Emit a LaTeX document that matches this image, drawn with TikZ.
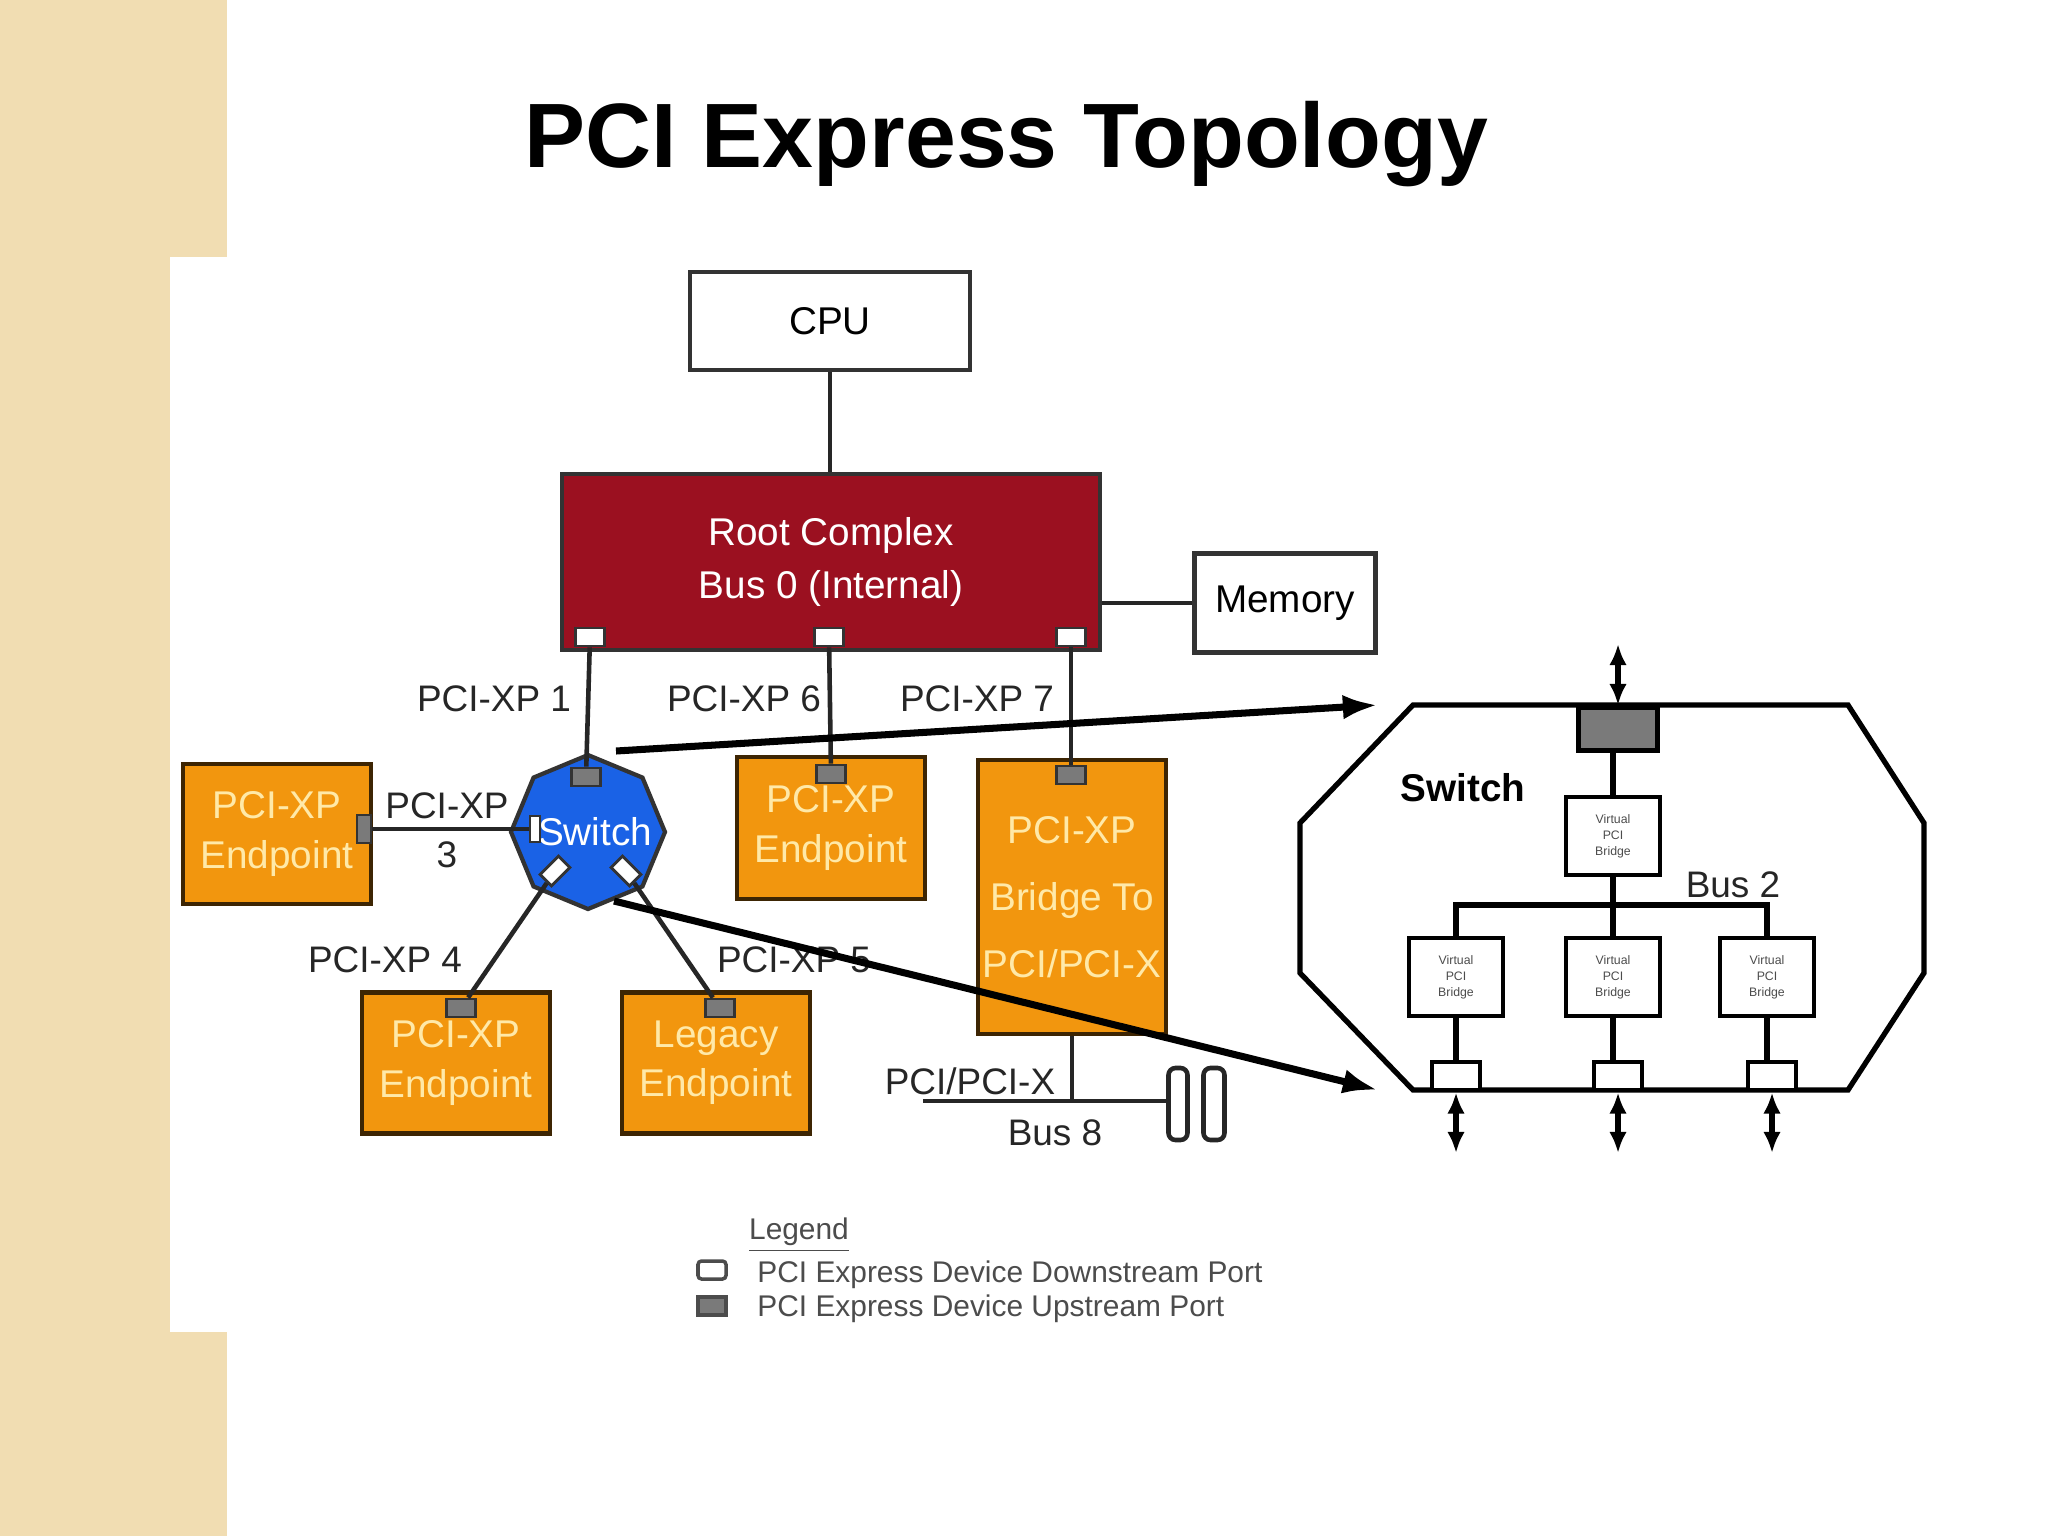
\documentclass[tikz,border=0pt]{standalone}
\usepackage{fontspec}
\setmainfont{Liberation Sans}
\usetikzlibrary{shapes.geometric,arrows.meta}
\newdimen\pxu \pxu=0.01cm
\definecolor{beige}{HTML}{F1DDB2}
\definecolor{rootred}{HTML}{9B1020}
\definecolor{orng}{HTML}{F2960E}
\definecolor{cream}{HTML}{FFE9A8}
\definecolor{swblue}{HTML}{1A62E6}
\definecolor{portgray}{HTML}{7A7A7A}
\begin{document}
\begin{tikzpicture}[x=0.01cm,y=-0.01cm,
  lbl/.style={font=\fontsize{10.5}{12}\selectfont,text=black!85},
  box/.style={draw=black!80,line width=1.4pt,fill=white,font=\fontsize{11}{13}\selectfont},
  ep/.style={draw=black!75!orng,line width=1.4pt,fill=orng,text=cream,align=center,font=\fontsize{11}{14}\selectfont,inner sep=0pt},
  dport/.style={draw=black!80,fill=white,line width=0.8pt,minimum width=29\pxu,minimum height=18\pxu,inner sep=0pt},
  uport/.style={draw=black!80,fill=portgray,line width=0.8pt,minimum width=29\pxu,minimum height=18\pxu,inner sep=0pt},
  ln/.style={line width=1.3pt,draw=black!85},
  vpb/.style={draw=black,line width=1.4pt,fill=white,minimum width=94\pxu,minimum height=78\pxu,inner sep=0pt,align=center,font=\fontsize{3.5}{4.5}\selectfont,text=black!70},
  dbl/.style={line width=1.5pt,{Latex[length=6pt,width=5pt]}-{Latex[length=6pt,width=5pt]}}]
\useasboundingbox (0,0) rectangle (2048,1536);
\fill[white] (0,0) rectangle (2048,1536);
\fill[beige] (0,0) rectangle (227,1536);
\fill[white] (170,257) rectangle (1926,1332);
\node[font=\bfseries\fontsize{26}{30}\selectfont] (title) at (1006,144) {PCI Express Topology};
% CPU, root, memory
\node[box,minimum width=280\pxu,minimum height=98\pxu] (cpu) at (830,321) {CPU};
\node[draw=black!80,line width=1.4pt,fill=rootred,minimum width=538\pxu,minimum height=176\pxu,text=white,align=center,font=\fontsize{11}{15}\selectfont] (root) at (831,562) {Root Complex\\Bus 0 (Internal)};
\node[box,minimum width=181\pxu,minimum height=99\pxu] (mem) at (1285,603) {Memory};
\draw[ln] (cpu.south) -- (root.north -| cpu.south);
\draw[ln] (root.east |- mem.west) -- (mem.west);
\node[dport] (r1) at (590,637) {};
\node[dport] (r6) at (829,637) {};
\node[dport] (r7) at (1071,637) {};
% Switch
\node[regular polygon,regular polygon sides=8,shape border rotate=22.5,draw=black!80,line width=1.2pt,fill=swblue,minimum size=154\pxu,inner sep=0pt] (sw) at (588,832) {};
\node[text=white,font=\fontsize{11}{13}\selectfont] (swt) at (595,832) {Switch};
\node[uport] (s1) at (586,777) {};
\node[dport,minimum width=10\pxu,minimum height=26\pxu] (s3) at (535,829) {};
\node[dport,minimum width=26\pxu,minimum height=16\pxu,rotate=45] (s4) at (555,871) {};
\node[dport,minimum width=26\pxu,minimum height=16\pxu,rotate=-45] (s5) at (626,871) {};
% endpoints
\node[ep,minimum width=188\pxu,minimum height=140\pxu] (e3) at (277,834) {PCI-XP\\Endpoint};
\node[uport,minimum width=14\pxu,minimum height=28\pxu] (e3p) at (364,829) {};
\node[ep,minimum width=188\pxu,minimum height=142\pxu] (e6) at (831,828) {PCI-XP\\Endpoint};
\node[uport] (e6p) at (831,774) {};
\node[ep,minimum width=188\pxu,minimum height=274\pxu,font=\fontsize{11}{19}\selectfont] (br) at (1072,897) {PCI-XP\\Bridge To\\PCI/PCI-X};
\node[uport] (brp) at (1071,775) {};
\node[ep,minimum width=188\pxu,minimum height=141\pxu] (e4) at (456,1063) {PCI-XP\\Endpoint};
\node[uport] (e4p) at (461,1008) {};
\node[ep,minimum width=188\pxu,minimum height=141\pxu] (e5) at (716,1063) {Legacy\\Endpoint};
\node[uport] (e5p) at (720,1008) {};
% links
\draw[ln] (r1) -- (s1);
\draw[ln] (r6) -- (e6p);
\draw[ln] (r7) -- (brp);
\draw[ln] (e3p) -- (s3);
\draw[ln] (s4) -- (e4p);
\draw[ln] (s5) -- (e5p);
\node[lbl] at (494,699) {PCI-XP 1};
\node[lbl] at (744,699) {PCI-XP 6};
\node[lbl] at (977,699) {PCI-XP 7};
\node[lbl,align=center,font=\fontsize{10.5}{14}\selectfont] at (447,830) {PCI-XP\\3};
\node[lbl] at (385,960) {PCI-XP 4};
\node[lbl] at (794,960) {PCI-XP 5};
% bus 8
\coordinate (b8a) at (1072,1101);
\coordinate (b8l) at (923,1101);
\coordinate (b8r) at (1166,1101);
\draw[ln] (br.south) -- (b8a);
\draw[ln] (b8l) -- (b8r);
\node[draw=black!85,line width=1.3pt,rounded corners=2pt,minimum width=19\pxu,minimum height=72\pxu,inner sep=0pt] (c1) at (1178,1104) {};
\node[draw=black!85,line width=1.3pt,rounded corners=2pt,minimum width=21\pxu,minimum height=72\pxu,inner sep=0pt] (c2) at (1214,1104) {};
\node[lbl] at (970,1081) {PCI/PCI-X};
\node[lbl] at (1055,1133) {Bus 8};
% detail switch
\draw[line width=1.5pt] (1413,705) -- (1848,705) -- (1924,823) -- (1924,973) -- (1848,1090) -- (1413,1090) -- (1300,973) -- (1300,823) -- cycle;
\coordinate (z1) at (1378,705);
\coordinate (z2) at (1378,1090);
\draw[line width=2pt,-{Latex[length=10pt,width=7pt]}] (616,751) -- (z1);
\draw[line width=2pt,-{Latex[length=10pt,width=7pt]}] (614,901) -- (z2);
\node[font=\bfseries\fontsize{11}{13}\selectfont] at (1463,788) {Switch};
\node[draw=black,line width=1.4pt,fill=portgray,minimum width=79\pxu,minimum height=43\pxu,inner sep=0pt] (up) at (1618,729) {};
\coordinate (upt) at (1618,644);
\draw[dbl] (upt) -- (up.north);
\node[vpb] (v0) at (1613,836) {Virtual\\PCI\\Bridge};
\node[vpb] (v1) at (1456,977) {Virtual\\PCI\\Bridge};
\node[vpb] (v2) at (1613,977) {Virtual\\PCI\\Bridge};
\node[vpb] (v3) at (1767,977) {Virtual\\PCI\\Bridge};
\draw[line width=1.5pt] (up.south -| v0.north) -- (v0.north);
\draw[line width=1.5pt] (v0.south) -- (v2.north);
\draw[line width=1.5pt] (v1.north) |- (1613,905) -| (v3.north);
\node[font=\fontsize{10.5}{12}\selectfont,text=black!85] at (1733,885) {Bus 2};
\foreach \i/\x in {1/1456,2/1618,3/1772}{
  \node[draw=black,line width=1.4pt,fill=white,minimum width=48\pxu,minimum height=28\pxu,inner sep=0pt] (d\i) at (\x,1076) {};
  \coordinate (db\i) at (\x,1153);
  \draw[dbl] (d\i.south) -- (db\i);
}
\draw[line width=1.5pt] (v1.south) -- (d1.north -| v1.south);
\draw[line width=1.5pt] (v2.south) -- (d2.north -| v2.south);
\draw[line width=1.5pt] (v3.south) -- (d3.north -| v3.south);
% legend
\node[font=\fontsize{8.5}{10}\selectfont,text=black!70] (lg) at (799,1235) {\underline{Legend}};
\node[draw=black!70,fill=white,line width=1pt,minimum width=28\pxu,minimum height=18\pxu,inner sep=0pt,rounded corners=1pt] (lw) at (712,1270) {};
\node[draw=black!70,fill=portgray,line width=1pt,minimum width=28\pxu,minimum height=18\pxu,inner sep=0pt] (lgr) at (712,1306) {};
\node[anchor=west,font=\fontsize{8.5}{10}\selectfont,text=black!70] at (745,1275) {PCI Express Device Downstream Port};
\node[anchor=west,font=\fontsize{8.5}{10}\selectfont,text=black!70] at (745,1309) {PCI Express Device Upstream Port};
\end{tikzpicture}
\end{document}
